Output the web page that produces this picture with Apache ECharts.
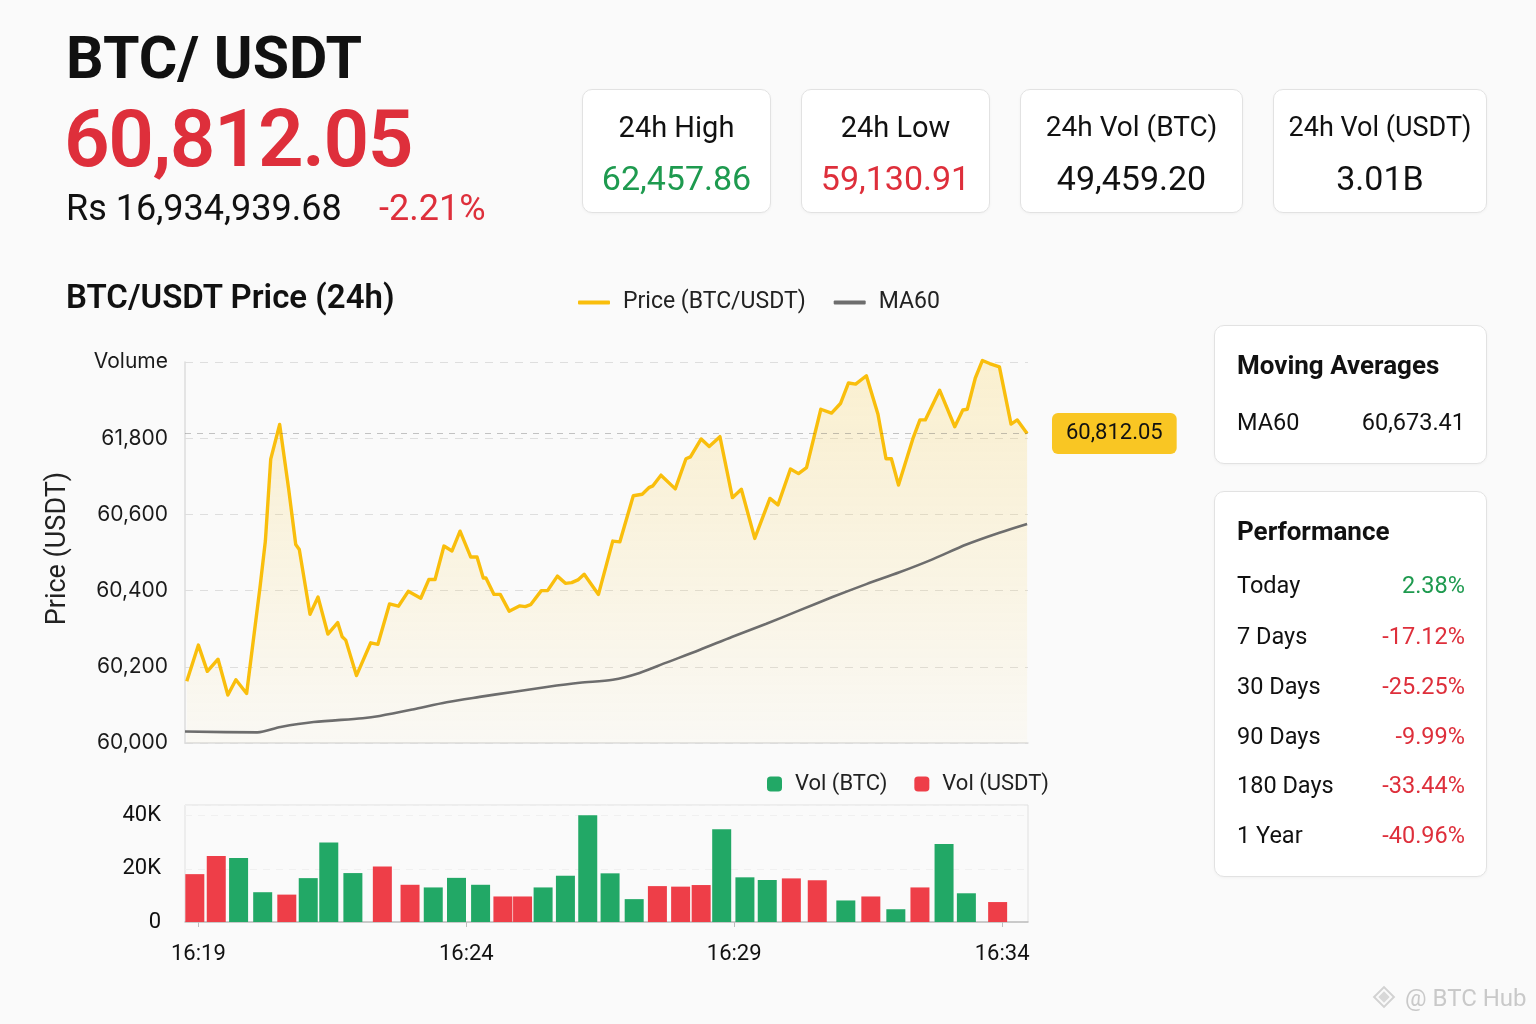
<!DOCTYPE html>
<html>
<head>
<meta charset="utf-8">
<script src="https://cdn.jsdelivr.net/npm/echarts@6/dist/echarts.min.js"></script>
<style>
  html, body { margin:0; padding:0; background:#FAFAFA; }
  body { width:1536px; height:1024px; position:relative; overflow:hidden; font-family:Roboto, "Noto Sans", sans-serif; color:#111; }
  #chart { position:absolute; left:0; top:0; width:1536px; height:1024px; }
  .abs { position:absolute; white-space:nowrap; }
  .card { position:absolute; background:#fff; border:1.5px solid #E2E2E2; border-radius:10px; box-sizing:border-box; box-shadow:0 1px 3px rgba(0,0,0,0.04); }
  .card .t { position:absolute; left:0; right:0; text-align:center; top:20px; line-height:34px; font-size:29px; color:#111; }
  .card .v { position:absolute; left:0; right:0; text-align:center; top:70px; line-height:36px; font-size:34px; color:#111; }
  .green { color:#1E9A4F !important; }
  .red { color:#DE2F3B !important; }
  .panel .h { position:absolute; left:22px; font-size:26px; font-weight:700; line-height:30px; color:#111; }
  .panel .row { position:absolute; left:22px; right:21px; font-size:23.5px; line-height:28px; color:#111; }
  .panel .row span.r { position:absolute; right:0; }
</style>
</head>
<body>
<div id="chart"></div>

<div class="abs" style="left:66px; top:28px; font-size:59px; line-height:59px; font-weight:700; color:#111;">BTC/ USDT</div>
<div class="abs red" style="left:64px; top:99px; font-size:80px; line-height:80px; font-weight:600; letter-spacing:-1.5px;">60,812.05</div>
<div class="abs" style="left:66px; top:190px; font-size:36px; line-height:36px; color:#111;">Rs 16,934,939.68</div>
<div class="abs red" style="left:379px; top:190px; font-size:36px; line-height:36px;">-2.21%</div>

<div class="card" style="left:582px; top:89px; width:189px; height:124px;"><div class="t">24h High</div><div class="v green">62,457.86</div></div>
<div class="card" style="left:801px; top:89px; width:189px; height:124px;"><div class="t">24h Low</div><div class="v red">59,130.91</div></div>
<div class="card" style="left:1020px; top:89px; width:223px; height:124px;"><div class="t" style="font-size:28px;">24h Vol (BTC)</div><div class="v">49,459.20</div></div>
<div class="card" style="left:1273px; top:89px; width:214px; height:124px;"><div class="t" style="font-size:27px;">24h Vol (USDT)</div><div class="v">3.01B</div></div>

<div class="abs" style="left:66px; top:280px; font-size:33px; line-height:33px; font-weight:600; color:#111;">BTC/USDT Price (24h)</div>

<div class="card panel" style="left:1214px; top:325px; width:273px; height:139px;">
  <div class="h" style="top:24px;">Moving Averages</div>
  <div class="row" style="top:82px;">MA60<span class="r">60,673.41</span></div>
</div>

<div class="card panel" style="left:1214px; top:491px; width:273px; height:386px;">
  <div class="h" style="top:24px;">Performance</div>
  <div class="row" style="top:79px;">Today<span class="r green">2.38%</span></div>
  <div class="row" style="top:130px;">7 Days<span class="r red">-17.12%</span></div>
  <div class="row" style="top:180px;">30 Days<span class="r red">-25.25%</span></div>
  <div class="row" style="top:230px;">90 Days<span class="r red">-9.99%</span></div>
  <div class="row" style="top:279px;">180 Days<span class="r red">-33.44%</span></div>
  <div class="row" style="top:329px;">1 Year<span class="r red">-40.96%</span></div>
</div>

<div class="abs" style="left:1376px; top:989px; width:16px; height:16px; border:2px solid #D2D2D2; transform:rotate(45deg); box-sizing:border-box;"></div>
<div class="abs" style="left:1380px; top:993px; width:8px; height:8px; background:#D8D8D8; transform:rotate(45deg);"></div>
<div class="abs" style="left:1405px; top:985px; font-size:24px; line-height:26px; color:#C9C9C9;">@ BTC Hub</div>

<script>
// ---- data (time = seconds after 16:19:00) ----
const priceTimes = [-13, 0, 10, 22, 33, 42, 54, 69, 75, 81, 91, 101, 109, 113, 125, 134, 145, 156, 161, 165,
  177, 193, 201, 214, 224, 235, 249, 258, 265, 275, 284, 293, 305, 312, 319, 322, 331, 338, 348, 360,
  366, 372, 384, 391, 402, 411, 418, 425, 432, 448,
  464, 472, 487, 497, 505, 509, 518, 534, 546, 551, 563, 572, 584, 598, 608, 623, 640, 649, 663, 672,
  681, 697, 709, 719, 728, 736, 748, 761, 770, 776, 784, 800, 808, 814, 830, 847, 856, 861, 870, 878,
  886, 897, 910, 917, 928];
const priceValues = [60162, 60257, 60188, 60220, 60126, 60166, 60130, 60409, 60530, 60745,
  60836, 60668, 60521, 60508, 60338, 60383, 60286, 60316, 60279, 60270,
  60177, 60263, 60259, 60365, 60359, 60398, 60380, 60429, 60429, 60517,
  60504, 60556, 60488, 60488, 60433, 60433, 60390, 60390, 60346, 60360,
  60358, 60363, 60400, 60400, 60438, 60419, 60421, 60428, 60443, 60390,
  60530, 60528, 60649, 60653, 60671, 60675, 60703, 60667, 60746, 60751,
  60798, 60778, 60804, 60644, 60666, 60537, 60642, 60625, 60719, 60707,
  60723, 60876, 60866, 60891, 60945, 60942, 60964, 60863, 60746, 60746,
  60677, 60798, 60848, 60848, 60926, 60830, 60874, 60876, 60958, 61004,
  60996, 60987, 60837, 60848, 60812.05];
const maTimes = [-15, 66, 92, 129, 184, 203, 240, 278, 315, 352, 390, 427, 464, 494, 524, 561, 598, 636, 673, 710, 748, 785, 822, 860, 897, 928];
const maValues = [60030, 60028, 60042, 60055, 60065, 60071, 60088, 60107, 60121, 60134, 60147, 60158, 60166,
  60184, 60211, 60244, 60279, 60313, 60348, 60383, 60417, 60448, 60482, 60521, 60552, 60575];
const lastPrice = 60812.05;
const lastPriceLabel = '60,812.05';

const volTimes = [-4, 20, 45, 72, 99, 123, 146, 173, 206, 237, 263, 289, 316, 341, 363, 386, 411, 436, 461, 488,
  514, 540, 563, 586, 612, 637, 664, 693, 725, 753, 781, 808, 835, 860, 895];
const volValues = [18000, 24800, 24100, 11200, 10300, 16500, 29900, 18400, 20900, 14000,
  13000, 16600, 14000, 9600, 9600, 13000, 17400, 40100, 18300, 8600,
  13500, 13300, 13900, 34900, 16800, 15800, 16400, 15700, 8100, 9600,
  4800, 13000, 29300, 10800, 7500];
const volSide = ['USDT','USDT','BTC','BTC','USDT','BTC','BTC','BTC','USDT','USDT',
  'BTC','BTC','BTC','USDT','USDT','BTC','BTC','BTC','BTC','BTC',
  'USDT','USDT','USDT','BTC','BTC','BTC','USDT','USDT','BTC','USDT',
  'BTC','USDT','BTC','BTC','USDT'];

const priceTickValues = [60000, 60200, 60400, 60600, 60800, 61000];
const priceTickLabels = ['60,000', '60,200', '60,400', '60,600', '61,800', 'Volume'];
const volTickValues = [0, 20000, 40000];
const volTickLabels = ['0', '20K', '40K'];
const timeTickValues = [0, 300, 600, 900];
const timeTickLabels = ['16:19', '16:24', '16:29', '16:34'];

// ---- build ----
const priceData = priceTimes.map((t, i) => [t, priceValues[i]]);
const maData = maTimes.map((t, i) => [t, maValues[i]]);
const volBtc = volTimes.map((t, i) => [t, volSide[i] === 'BTC' ? volValues[i] : '-']);
const volUsdt = volTimes.map((t, i) => [t, volSide[i] === 'USDT' ? volValues[i] : '-']);

const FONT = 'Roboto';
const chart = echarts.init(document.getElementById('chart'), null, { renderer: 'canvas' });
const lookup = (vals, labels) => (v) => { const i = vals.findIndex(x => Math.abs(x - v) < 1e-6); return i >= 0 ? labels[i] : ''; };

chart.setOption({
  animation: false,
  textStyle: { fontFamily: FONT },
  grid: [
    { left: 185, right: 508, top: 362, bottom: 281 },
    { left: 185, right: 508, top: 805, bottom: 102, show: true, borderColor: '#E0E0E0', borderWidth: 1 }
  ],
  legend: [
    { data: ['Price (BTC/USDT)', 'MA60'], left: 573, top: 286, icon: 'roundRect', itemWidth: 32, itemHeight: 4, itemGap: 28,
      textStyle: { fontSize: 23, color: '#222', fontFamily: FONT, padding: [0, 0, 0, 8] } },
    { data: ['Vol (BTC)', 'Vol (USDT)'], left: 762, top: 768, icon: 'roundRect', itemWidth: 15, itemHeight: 15, itemGap: 27,
      textStyle: { fontSize: 22, color: '#222', fontFamily: FONT, padding: [0, 0, 0, 8] } }
  ],
  xAxis: [
    { type: 'value', gridIndex: 0, min: -15, max: 929,
      axisLine: { show: true, onZero: false, lineStyle: { color: '#DCDCDC', width: 1.5 } },
      axisTick: { show: false }, axisLabel: { show: false }, splitLine: { show: false } },
    { type: 'value', gridIndex: 1, min: -15, max: 929,
      axisLine: { show: true, onZero: false, lineStyle: { color: '#BDBDBD', width: 1.5 } },
      axisTick: { show: true, customValues: timeTickValues, length: 5, lineStyle: { color: '#BDBDBD' } },
      axisLabel: { show: true, customValues: timeTickValues, formatter: lookup(timeTickValues, timeTickLabels), fontSize: 22, color: '#111', margin: 21 },
      splitLine: { show: false } }
  ],
  yAxis: [
    { type: 'value', gridIndex: 0, min: 60000, max: 61000, interval: 200,
      name: 'Price (USDT)', nameLocation: 'middle', nameGap: 113, nameRotate: 90,
      nameTextStyle: { fontSize: 27, color: '#222', fontFamily: FONT, padding: [0, 0, 0, 8] },
      axisLine: { show: true, onZero: false, lineStyle: { color: '#DCDCDC', width: 1.5 } },
      axisTick: { show: false },
      axisLabel: { formatter: lookup(priceTickValues, priceTickLabels), fontSize: 21, color: '#1a1a1a', margin: 17, fontFamily: 'Inter', padding: [5, 0, 0, 0] },
      splitLine: { show: true, lineStyle: { color: '#DEDEDE', type: [8, 7], width: 1 } } },
    { type: 'value', gridIndex: 1, min: 0, max: 44000, interval: 20000,
      axisLine: { show: false, onZero: false }, axisTick: { show: false },
      axisLabel: { formatter: lookup(volTickValues, volTickLabels), fontSize: 22, color: '#111', margin: 24, padding: [6, 0, 0, 0] },
      splitLine: { show: true, lineStyle: { color: '#F0F0F0', type: [7, 6] } } }
  ],
  series: [
    { name: 'Price (BTC/USDT)', type: 'line', xAxisIndex: 0, yAxisIndex: 0, data: priceData,
      showSymbol: false, clip: false, z: 3,
      lineStyle: { color: '#F9BE0C', width: 3.4, join: 'round' },
      itemStyle: { color: '#F9BE0C' },
      areaStyle: { color: new echarts.graphic.LinearGradient(0, 0, 0, 1, [
        { offset: 0, color: 'rgba(250,196,30,0.28)' },
        { offset: 1, color: 'rgba(250,196,30,0.04)' }]) },
      markLine: { silent: true, symbol: ['none', 'none'], animation: false,
        lineStyle: { color: 'rgba(90,90,90,0.35)', type: [6, 6], width: 1 },
        label: { show: true, position: 'end', distance: 24, formatter: lastPriceLabel, fontSize: 22, color: '#111',
          fontFamily: FONT, backgroundColor: '#F9C623', borderRadius: 6, padding: [10, 14, 9, 14] },
        data: [{ yAxis: lastPrice }] } },
    { name: 'MA60', type: 'line', xAxisIndex: 0, yAxisIndex: 0, data: maData, smooth: 0.3,
      showSymbol: false, z: 4, lineStyle: { color: '#6D6D6D', width: 2.6 }, itemStyle: { color: '#6D6D6D' } },
    { name: 'Vol (BTC)', type: 'bar', xAxisIndex: 1, yAxisIndex: 1, data: volBtc, stack: 'vol', barWidth: 19,
      itemStyle: { color: '#22A866' } },
    { name: 'Vol (USDT)', type: 'bar', xAxisIndex: 1, yAxisIndex: 1, data: volUsdt, stack: 'vol', barWidth: 19,
      itemStyle: { color: '#EE3E48' } }
  ]
});
</script>
</body>
</html>
